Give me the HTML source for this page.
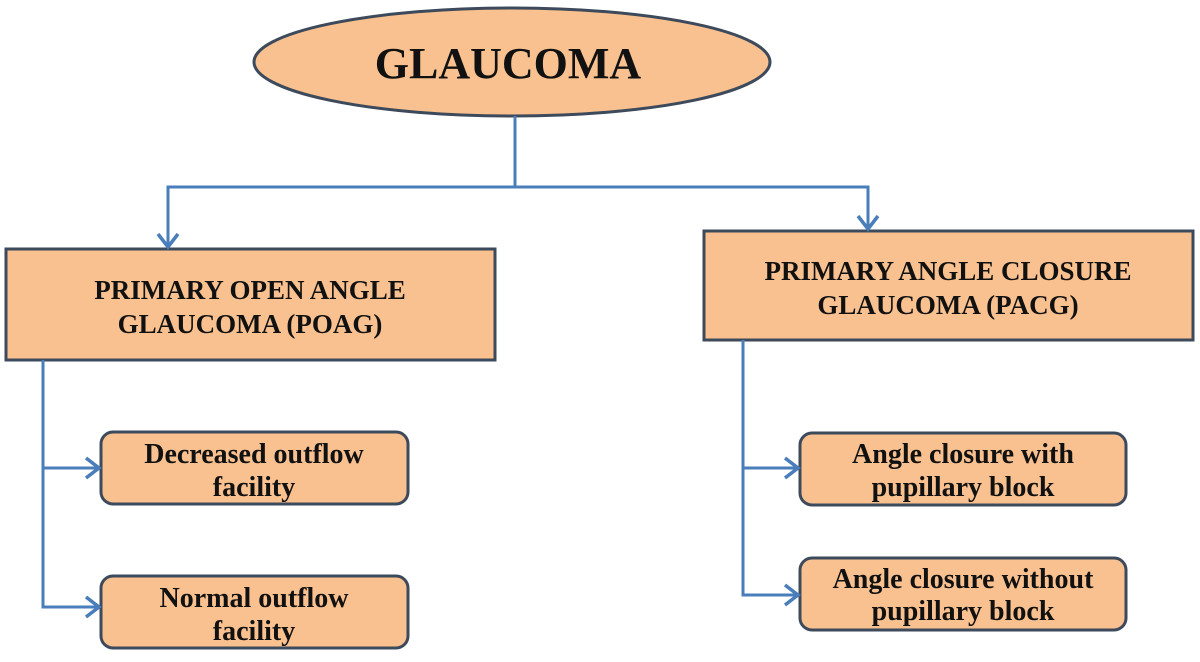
<!DOCTYPE html>
<html><head><style>
html,body{margin:0;padding:0;background:#fff;}
svg text{font-family:"Liberation Serif",serif;font-weight:bold;fill:#111;}
</style></head><body>
<svg width="1200" height="657" viewBox="0 0 1200 657" xmlns="http://www.w3.org/2000/svg">
<defs><marker id="a" markerWidth="20" markerHeight="24" refX="15" refY="12" orient="auto" markerUnits="userSpaceOnUse"><path d="M2,2 L15,12 L2,22" fill="none" stroke="#4a7ebb" stroke-width="3.5"/></marker></defs>
<g fill="#f9c18f" stroke="#3d4a5c" stroke-width="3">
<ellipse cx="512" cy="62" rx="258" ry="54"/>
<rect x="6" y="249" width="489" height="111"/>
<rect x="704" y="231" width="489" height="109"/>
<rect x="101" y="432" width="307" height="72" rx="12"/>
<rect x="101" y="576" width="307" height="72" rx="12"/>
<rect x="800" y="433" width="326" height="72" rx="12"/>
<rect x="800" y="558" width="326" height="72" rx="12"/>
</g>
<g fill="none" stroke="#4a7ebb" stroke-width="3">
<path d="M515 116 V187"/>
<path d="M515 187 H168 V247" marker-end="url(#a)"/>
<path d="M515 187 H868 V229" marker-end="url(#a)"/>
<path d="M43 360 V607 H99" marker-end="url(#a)"/>
<path d="M43 468 H99" marker-end="url(#a)"/>
<path d="M743 340 V595 H798" marker-end="url(#a)"/>
<path d="M743 468 H798" marker-end="url(#a)"/>
</g>
<text x="508" y="78" font-size="44" text-anchor="middle">GLAUCOMA</text>
<g font-size="27" text-anchor="middle">
<text x="250" y="299">PRIMARY OPEN ANGLE</text>
<text x="250" y="333">GLAUCOMA (POAG)</text>
<text x="948" y="280">PRIMARY ANGLE CLOSURE</text>
<text x="948" y="314">GLAUCOMA (PACG)</text>
</g>
<g font-size="28" text-anchor="middle">
<text x="254" y="463">Decreased outflow</text>
<text x="254" y="496">facility</text>
<text x="254" y="607">Normal outflow</text>
<text x="254" y="640">facility</text>
<text x="963" y="463">Angle closure with</text>
<text x="963" y="496">pupillary block</text>
<text x="963" y="588">Angle closure without</text>
<text x="963" y="620">pupillary block</text>
</g>
</svg>
</body></html>
